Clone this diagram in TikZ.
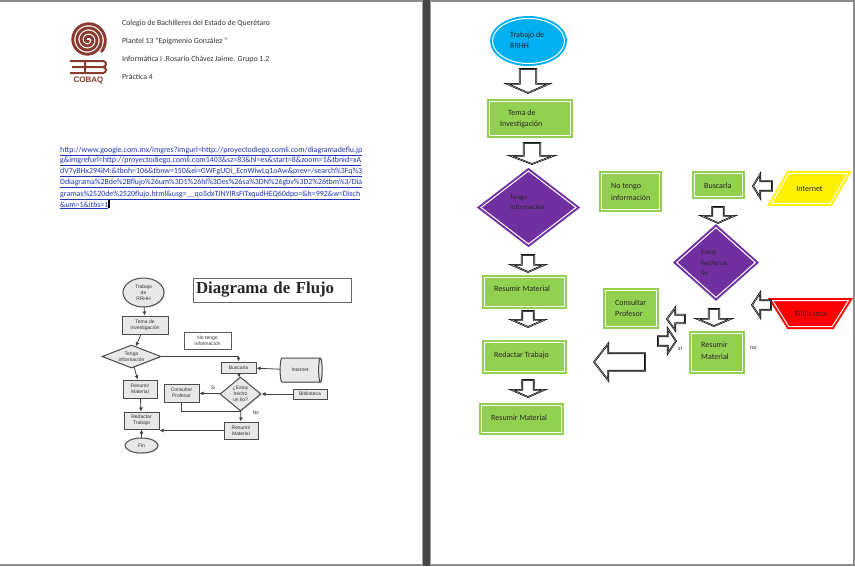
\documentclass[tikz,border=0pt]{standalone}
\usepackage{fontspec}
\usepackage{graphicx}
\setmainfont{Carlito}
\newfontfamily\arialf{Liberation Sans}
\newfontfamily\serifb{Liberation Serif}
\usetikzlibrary{shapes.geometric,shapes.arrows,shadows,arrows.meta}
\definecolor{lime}{HTML}{92D050}
\definecolor{purp}{HTML}{7030A0}
\definecolor{sky}{HTML}{00B0F0}
\definecolor{urlblue}{HTML}{1F35B5}
\definecolor{logoc}{HTML}{8A3B30}
\tikzset{
  flowbase/.style={inner sep=0pt,outer sep=0pt,line width=2pt,double=white,double distance=1pt},
  limebox/.style={flowbase,rectangle,draw=lime,fill=lime},
  skyoval/.style={flowbase,ellipse,draw=sky,fill=sky},
  purpdia/.style={flowbase,diamond,draw=purp,fill=purp},
  yelpar/.style={flowbase,trapezium,draw=yellow,fill=yellow,text=black!85,font=\fontsize{8}{9}\selectfont,trapezium stretches body=true,trapezium left angle=60,trapezium right angle=120},
  redtrap/.style={flowbase,trapezium,draw=red,fill=red,text=black!85,font=\fontsize{8}{9}\selectfont,trapezium stretches body=true,shape border rotate=180,trapezium left angle=58,trapezium right angle=58},
  blockarrow/.style={single arrow,draw=black,fill=white,inner xsep=0pt,outer sep=0pt,line width=.6pt,double=gray!70,double distance=.5pt,miter limit=20},
  txt/.style={inner sep=0pt,anchor=west,text=black!85,font=\fontsize{8}{9}\selectfont},
  smalltxt/.style={txt,font=\fontsize{7}{8}\selectfont},
  tinytxt/.style={txt,font=\fontsize{6}{7}\selectfont},
  headtxt/.style={inner sep=0pt,anchor=west,text=black!80,font=\fontsize{7.8}{9}\selectfont},
  urltxt/.style={inner sep=0pt,anchor=base west,text=urlblue,font=\fontsize{7}{8}\selectfont},
  mini/.style={draw=black!70,line width=1pt,fill=gray!18,inner sep=0pt,align=center,text=black!80,font=\arialf\fontsize{5}{6}\selectfont,drop shadow={shadow xshift=.8pt,shadow yshift=-.8pt,fill=gray!60}},
  minilabel/.style={inner sep=0pt,text=black!80,font=\arialf\fontsize{5}{6}\selectfont},
  minilink/.style={draw=black!75,line width=.8pt,-{Latex[length=4pt,width=4pt]}},
}
\newcommand{\barrow}[8]{%
  \pgfmathsetmacro{\tipang}{2*atan((#6/2)/#8)}%
  \pgfmathsetmacro{\extlen}{(#6-#7)/2}%
  \pgfmathsetmacro{\halfshaft}{#7/2}%
  \node[blockarrow,rotate=#4,anchor=tip,inner ysep=\halfshaft pt,minimum height=#5pt,single arrow head extend=\extlen pt,single arrow tip angle=\tipang] (#1) at (#2,#3) {};}
\newcommand{\urlline}[4]{\node[urltxt] (#1) at (60,#2) {\resizebox{#3pt}{!}{\underline{#4}}};}
\begin{document}
\begin{tikzpicture}[x=1pt,y=-1pt]
\useasboundingbox (0,0) rectangle (855,566);
% page frame
\fill[white] (0,0) rectangle (855,566);
\fill[gray!90] (0,0) rectangle (855,2);
\fill[gray!90] (0,564) rectangle (855,566);
\fill[gray!90] (853,0) rectangle (855,566);
\fill[gray!75] (422,0) rectangle (431,566);
\fill[black!72] (423,0) rectangle (430,566);
% logo
\draw[logoc,line width=2.9pt,line cap=round,smooth] plot[domain=0:1420,samples=140] ({88+(1.2+\x/360*4.2)*cos(\x+60)},{40+(1.2+\x/360*4.2)*sin(\x+60)});
\draw[logoc,line width=2pt] (70,61)--(103,61) arc[start angle=-90,end angle=90,radius=3] --(72,67) (103,67) arc[start angle=-90,end angle=90,radius=3] --(70,73) (85,61)--(85,73);
\node[inner sep=0pt,text=logoc,font=\arialf\bfseries\fontsize{8}{9}\selectfont] (cobaq) at (88.5,80.5) {COBAQ};
% header text
\node[headtxt] (h1) at (122,23) {Colegio de Bachilleres del Estado de Querétaro};
\node[headtxt] (h2) at (122,41) {Plantel 13 "Epigmenio González "};
\node[headtxt] (h3) at (122,59) {Informática I .Rosario Chávez Jaime. Grupo 1.2};
\node[headtxt] (h4) at (122,77) {Práctica 4};
% url
\urlline{u1}{152}{302}{http://www.google.com.mx/imgres?imgurl=http://proyectodiego.comli.com/diagramadeflu.jp}
\urlline{u2}{162.5}{301}{g\&imgrefurl=http://proyectodiego.comli.com1403\&sz=83\&hl=es\&start=8\&zoom=1\&tbnid=xA}
\urlline{u3}{173.5}{302}{dV7yBHx294iM:\&tbnh=106\&tbnw=150\&ei=GWFgUOi\_EcnWiwLq1oAw\&prev=/search\%3Fq\%3}
\urlline{u4}{184.5}{302}{Ddiagrama\%2Bde\%2Bflujo\%26um\%3D1\%26hl\%3Des\%26sa\%3DN\%26gbv\%3D2\%26tbm\%3/Dia}
\urlline{u5}{196}{300}{gramas\%2520de\%2520flujo.html\&usg=\_\_qo5dxTJNYIRsFiTxqudHEQ60dpo=\&h=992\&w=Disch}
\urlline{u6}{207}{48}{\&um=1\&itbs=1}
\fill[black] (108,199.5) rectangle (109.7,208);
% small picture
\node[draw=black!60,line width=.8pt,fill=white,minimum width=158pt,minimum height=24pt,inner sep=0pt,text width=152pt,align=left,drop shadow={shadow xshift=1pt,shadow yshift=-1pt,fill=gray!50},font=\serifb\bfseries\fontsize{16.8}{19}\selectfont,text=black!85] (title) at (272,290) {Diagrama de Flujo};
\node[mini,ellipse,minimum width=41pt,minimum height=29pt] (mA) at (143.5,292.5) {Trabajo\\de\\RRHH};
\node[mini,minimum width=46pt,minimum height=18pt] (mB) at (145,325) {Tema de\\Investigación};
\node[mini,diamond,aspect=2.5,minimum width=59pt,minimum height=23pt] (mC) at (131.5,356.5) {Tengo\\información};
\node[draw=black!65,line width=.7pt,fill=white,inner sep=0pt,align=center,text=black!80,font=\arialf\fontsize{5}{6}\selectfont,minimum width=47pt,minimum height=17pt] (mD) at (207.5,340.5) {No tengo\\Información};
\node[mini,minimum width=35pt,minimum height=11pt] (mE) at (238.5,367.5) {Buscarla};
\node[mini,cylinder,shape aspect=1,cylinder uses custom fill,cylinder body fill=gray!18,cylinder end fill=gray!30,minimum width=24pt,minimum height=42pt] (mF) at (300,370) {Internet};
\node[mini,diamond,minimum width=41pt,minimum height=34pt] (mG) at (240.5,394) {¿Estoy\\hecho\\un lio?};
\node[mini,minimum width=34pt,minimum height=10pt] (mH) at (310,394) {Biblioteca};
\node[mini,minimum width=35pt,minimum height=18pt] (mI) at (181.5,393) {Consultar\\Profesor};
\node[mini,minimum width=34pt,minimum height=18pt] (mJ) at (140,389) {Resumir\\Material};
\node[mini,minimum width=35pt,minimum height=17pt] (mK) at (141.5,420.5) {Redactar\\Trabajo};
\node[mini,minimum width=34pt,minimum height=17pt] (mL) at (241,430.5) {Resumir\\Material};
\node[mini,ellipse,minimum width=33pt,minimum height=15pt] (mM) at (141.5,445.5) {Fin};
\path[minilink] (mA) -- (mB);
\path[minilink] (mB) -- (mC);
\path[minilink] (mC) -- (mJ);
\path[minilink] (mJ) -- (mK);
\path[minilink] (mM) -- (mK);
\path[minilink] (mC.east) -| (mE.north);
\path[minilink] (mF) -- (mE);
\path[minilink] (mE) -- (mG);
\path[minilink] (mH) -- (mG);
\path[minilink] (mG) -- (mI);
\path[minilink,-] (mI.south) |- (mG.south);
\path[minilink] (mG) -- (mL);
\path[minilink] (mL.west) -- (mK.east |- mL.west);
\node[minilabel] (mSi) at (213,388) {Si};
\node[minilabel] (mNo) at (256,413) {No};
% right page shapes
\node[skyoval,minimum width=72pt,minimum height=45pt] (trabajo) at (528.5,41) {};
\node[limebox,minimum width=81pt,minimum height=34pt] (tema) at (530,118.5) {};
\node[purpdia,minimum width=95pt,minimum height=73pt] (tengo) at (528.5,207.5) {};
\node[limebox,minimum width=80pt,minimum height=29pt] (res1) at (524.5,292) {};
\node[limebox,minimum width=80pt,minimum height=29pt] (redac) at (524.5,357) {};
\node[limebox,minimum width=80pt,minimum height=27pt] (res3) at (521.5,419) {};
\node[limebox,minimum width=58pt,minimum height=36pt] (notengo) at (630.5,191.5) {};
\node[limebox,minimum width=48pt,minimum height=23pt] (busc) at (718.5,185) {};
\node[yelpar,inner ysep=12.2pt,minimum width=76pt] (inet) at (809.5,188.5) {Internet};
\node[purpdia,minimum width=78.5pt,minimum height=70pt] (estoy) at (716,262.5) {};
\node[redtrap,inner ysep=10.2pt,minimum width=76pt] (biblio) at (810.5,313.5) {Biblioteca};
\node[limebox,minimum width=51pt,minimum height=36pt] (consul) at (631,308.5) {};
\node[limebox,minimum width=51pt,minimum height=38pt] (res2) at (717,352.5) {};
% block arrows
\barrow{a1}{528}{93}{-90}{24}{41}{16}{9}
\barrow{a2}{532}{164}{-90}{21}{42}{16}{8}
\barrow{a3}{528}{272}{-90}{17}{32}{12}{7}
\barrow{a4}{528}{327}{-90}{16}{32}{11}{7}
\barrow{a5}{528}{397}{-90}{17}{32}{11}{7}
\barrow{a6}{718}{223}{-90}{16}{32}{11}{7}
\barrow{a7}{753}{186}{180}{19}{23}{9}{7}
\barrow{a8}{752}{305}{180}{19}{24}{9}{8}
\barrow{a9}{714}{326}{-90}{17}{33}{10}{7}
\barrow{a10}{667}{319}{180}{18}{22}{8}{8}
\barrow{a11}{676}{341}{0}{18}{24}{9}{8}
\barrow{a12}{594}{362}{180}{51}{36}{17}{14}
% right page labels
\node[txt] (t1) at (510,35) {Trabajo de};
\node[txt] (t2) at (510,46) {RRHH};
\node[txt] (t3) at (508,113) {Tema de};
\node[txt] (t4) at (500,124) {Investigación};
\node[smalltxt] (t5) at (510,198) {Tengo};
\node[smalltxt] (t6) at (510,207.5) {Información};
\node[txt] (t7) at (611,187) {No tengo};
\node[txt] (t8) at (611,197.5) {información};
\node[txt] (t9) at (704,186) {Buscarla};
\node[smalltxt] (t11) at (701,253) {Estoy};
\node[smalltxt] (t12) at (701,263) {hecho un};
\node[smalltxt] (t13) at (701,273) {lio};
\node[txt] (t15) at (615,303) {Consultar};
\node[txt] (t16) at (615,314) {Profesor};
\node[txt] (t17) at (701,345) {Resumir};
\node[txt] (t18) at (701,357) {Material};
\node[tinytxt] (t19) at (678,348) {si};
\node[tinytxt] (t20) at (750,348) {no};
\node[txt] (t21) at (494,289) {Resumir Material};
\node[txt] (t22) at (494,355) {Redactar Trabajo};
\node[txt] (t23) at (491,418) {Resumir Material};
\end{tikzpicture}
\end{document}
